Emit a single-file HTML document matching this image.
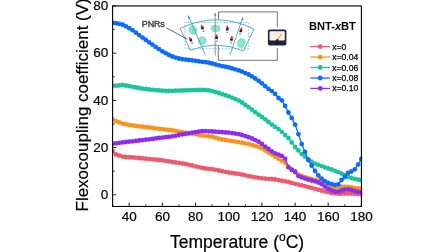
<!DOCTYPE html>
<html><head><meta charset="utf-8"><title>Flexocoupling coefficient vs Temperature</title>
<style>
html,body{margin:0;padding:0;background:#fff;}
body{width:448px;height:252px;overflow:hidden;}
svg{display:block;font-family:"Liberation Sans",Arial,sans-serif;}
</style></head><body>
<svg width="448" height="252" viewBox="0 0 448 252">
<rect width="448" height="252" fill="#fff"/>
<g id="inset">
<defs><pattern id="hatch" width="1.6" height="1.6" patternUnits="userSpaceOnUse" patternTransform="rotate(20)"><rect width="1.6" height="1.6" fill="#a9ecd9"/><rect width="0.7" height="1.6" fill="#6fd9bc"/></pattern></defs>
<!-- circuit wires -->
<path d="M218.5 20V11.9H277.3V27.4M277.3 48V60.3H218.3V45.6" fill="none" stroke="#505050" stroke-width="0.8"/>
<!-- dashed undeformed beam -->
<rect x="185" y="22.5" width="63.7" height="26.2" fill="none" stroke="#62adc8" stroke-width="0.75" stroke-dasharray="1.5 1.7"/>
<!-- PNR ellipses -->
<g fill="url(#hatch)" stroke="#5fd3b4" stroke-width="0.5">
<ellipse cx="193" cy="30" rx="3.7" ry="4.5" transform="rotate(-22 193 30)"/>
<ellipse cx="215.6" cy="28.4" rx="4.6" ry="3.3" transform="rotate(0 215.6 28.4)"/>
<ellipse cx="202.2" cy="40.6" rx="3.9" ry="3.9" transform="rotate(25 202.2 40.6)"/>
<ellipse cx="241.2" cy="43" rx="3.7" ry="4.5" transform="rotate(22 241.2 43)"/>
</g>
<!-- bent beam -->
<path d="M180.1 28.4Q217 10.85 254 29.1L243.3 51Q216.8 39.6 190.3 50.2Z" fill="none" stroke="#4f9fbc" stroke-width="0.9" stroke-linejoin="round"/>
<!-- arrows -->
<path d="M205.3 55L188.9 17.2M215.2 55.5V14.5M230 54.8L242.3 18.7" fill="none" stroke="#4f9fbc" stroke-width="0.9"/>
<path d="M188 15l2.4 3.1-2.4 1.05zM215.2 12.3l1.35 3.5h-2.7zM243 16.6l0.55 3.8-2.5-0.85z" fill="#4f9fbc"/>
<!-- dipoles -->
<g transform="translate(202.5,28.3) rotate(-18)"><path d="M0 -3.7L1.25 -0.9H-1.25Z" fill="#e51c2a" stroke="#e51c2a" stroke-width="0.5" stroke-linejoin="round"/><rect x="-1.25" y="-1" width="2.5" height="2.2" rx="0.5" fill="#17172a"/><rect x="-1.1" y="1.2" width="2.2" height="2.6" rx="0.6" fill="#c4e0f3"/><rect x="-0.8" y="2.8" width="1.6" height="1" rx="0.3" fill="#3b4a5a" opacity="0.6"/></g>
<g transform="translate(190.9,40.3) rotate(-22)"><path d="M0 -3.7L1.25 -0.9H-1.25Z" fill="#e51c2a" stroke="#e51c2a" stroke-width="0.5" stroke-linejoin="round"/><rect x="-1.25" y="-1" width="2.5" height="2.2" rx="0.5" fill="#17172a"/><rect x="-1.1" y="1.2" width="2.2" height="2.6" rx="0.6" fill="#c4e0f3"/><rect x="-0.8" y="2.8" width="1.6" height="1" rx="0.3" fill="#3b4a5a" opacity="0.6"/></g>
<g transform="translate(216.6,37.9) rotate(0)"><path d="M0 -3.7L1.25 -0.9H-1.25Z" fill="#e51c2a" stroke="#e51c2a" stroke-width="0.5" stroke-linejoin="round"/><rect x="-1.25" y="-1" width="2.5" height="2.2" rx="0.5" fill="#17172a"/><rect x="-1.1" y="1.2" width="2.2" height="2.6" rx="0.6" fill="#c4e0f3"/><rect x="-0.8" y="2.8" width="1.6" height="1" rx="0.3" fill="#3b4a5a" opacity="0.6"/></g>
<g transform="translate(227.3,29.3) rotate(0)"><path d="M0 -3.7L1.25 -0.9H-1.25Z" fill="#e51c2a" stroke="#e51c2a" stroke-width="0.5" stroke-linejoin="round"/><rect x="-1.25" y="-1" width="2.5" height="2.2" rx="0.5" fill="#17172a"/><rect x="-1.1" y="1.2" width="2.2" height="2.6" rx="0.6" fill="#c4e0f3"/><rect x="-0.8" y="2.8" width="1.6" height="1" rx="0.3" fill="#3b4a5a" opacity="0.6"/></g>
<g transform="translate(231.5,39.6) rotate(8)"><path d="M0 -3.7L1.25 -0.9H-1.25Z" fill="#e51c2a" stroke="#e51c2a" stroke-width="0.5" stroke-linejoin="round"/><rect x="-1.25" y="-1" width="2.5" height="2.2" rx="0.5" fill="#17172a"/><rect x="-1.1" y="1.2" width="2.2" height="2.6" rx="0.6" fill="#c4e0f3"/><rect x="-0.8" y="2.8" width="1.6" height="1" rx="0.3" fill="#3b4a5a" opacity="0.6"/></g>
<g transform="translate(240.8,31) rotate(15)"><path d="M0 -3.7L1.25 -0.9H-1.25Z" fill="#e51c2a" stroke="#e51c2a" stroke-width="0.5" stroke-linejoin="round"/><rect x="-1.25" y="-1" width="2.5" height="2.2" rx="0.5" fill="#17172a"/><rect x="-1.1" y="1.2" width="2.2" height="2.6" rx="0.6" fill="#c4e0f3"/><rect x="-0.8" y="2.8" width="1.6" height="1" rx="0.3" fill="#3b4a5a" opacity="0.6"/></g>

<!-- voltmeter -->
<rect x="267.9" y="29.6" width="18.5" height="16" rx="1.8" fill="#1c2240"/>
<rect x="269.5" y="31.2" width="15.3" height="9.2" rx="0.8" fill="#fbf2e2"/>
<path d="M277.4 40L281.6 33.8" stroke="#e8602c" stroke-width="0.8" fill="none"/>
<path d="M271.5 35.8Q277.2 31.8 283 35.8" stroke="#cdb98f" stroke-width="0.6" stroke-dasharray="0.6 0.9" fill="none"/>
<circle cx="277.2" cy="40.6" r="1.5" fill="#1c2240"/><ellipse cx="277.2" cy="43.2" rx="1.6" ry="0.7" fill="#0c0f22"/>
<!-- PNRs label -->
<path d="M166.3 27.8L187.4 39.1" stroke="#444" stroke-width="0.8" fill="none"/>
<text x="141.8" y="26.6" font-size="8.8px" fill="#4a4a4a" stroke="#4a4a4a" stroke-width="0.45">PNRs</text>
</g>

<clipPath id="pc"><rect x="112.2" y="0" width="250" height="210"/></clipPath><g clip-path="url(#pc)"><g fill="#EB5A6E" stroke="none"><polyline points="112.6,151.0 115.9,154.4 119.2,155.5 122.6,156.6 125.9,157.0 129.2,157.2 132.5,157.4 135.8,157.7 139.1,158.0 142.5,158.4 145.8,158.7 149.1,159.0 152.4,159.3 155.7,159.7 159.0,160.0 162.4,160.3 165.7,160.8 169.0,161.4 172.3,162.0 175.6,162.5 178.9,163.0 182.3,163.5 185.6,164.0 188.9,164.8 192.2,165.5 195.5,166.3 198.9,167.1 202.2,167.9 205.5,168.5 208.8,168.8 212.1,169.2 215.4,169.8 218.8,170.5 222.1,171.2 225.4,171.8 228.7,172.5 232.0,173.0 235.3,173.5 238.7,173.9 242.0,174.6 245.3,175.3 248.6,176.1 251.9,176.7 255.2,177.3 258.6,177.8 261.9,178.3 265.2,178.6 268.5,178.8 271.8,178.9 275.1,179.5 278.5,180.1 281.8,180.7 285.1,181.3 288.4,182.0 291.7,182.9 295.1,183.8 298.4,184.6 301.7,185.4 305.0,186.2 308.3,187.1 311.6,187.9 315.0,188.8 318.3,189.7 321.6,190.5 324.9,191.4 328.2,192.2 331.5,193.0 334.9,193.3 338.2,193.7 341.5,193.8 344.8,193.6 348.1,193.4 351.4,193.6 354.8,193.8 358.1,194.1 361.4,194.4" fill="none" stroke="#EB5A6E" stroke-width="1.3"/>
<circle cx="112.6" cy="151.0" r="2.4"/><circle cx="115.9" cy="154.4" r="2.4"/><circle cx="119.2" cy="155.5" r="2.4"/><circle cx="122.6" cy="156.6" r="2.4"/><circle cx="125.9" cy="157.0" r="2.4"/><circle cx="129.2" cy="157.2" r="2.4"/><circle cx="132.5" cy="157.4" r="2.4"/><circle cx="135.8" cy="157.7" r="2.4"/><circle cx="139.1" cy="158.0" r="2.4"/><circle cx="142.5" cy="158.4" r="2.4"/><circle cx="145.8" cy="158.7" r="2.4"/><circle cx="149.1" cy="159.0" r="2.4"/><circle cx="152.4" cy="159.3" r="2.4"/><circle cx="155.7" cy="159.7" r="2.4"/><circle cx="159.0" cy="160.0" r="2.4"/><circle cx="162.4" cy="160.3" r="2.4"/><circle cx="165.7" cy="160.8" r="2.4"/><circle cx="169.0" cy="161.4" r="2.4"/><circle cx="172.3" cy="162.0" r="2.4"/><circle cx="175.6" cy="162.5" r="2.4"/><circle cx="178.9" cy="163.0" r="2.4"/><circle cx="182.3" cy="163.5" r="2.4"/><circle cx="185.6" cy="164.0" r="2.4"/><circle cx="188.9" cy="164.8" r="2.4"/><circle cx="192.2" cy="165.5" r="2.4"/><circle cx="195.5" cy="166.3" r="2.4"/><circle cx="198.9" cy="167.1" r="2.4"/><circle cx="202.2" cy="167.9" r="2.4"/><circle cx="205.5" cy="168.5" r="2.4"/><circle cx="208.8" cy="168.8" r="2.4"/><circle cx="212.1" cy="169.2" r="2.4"/><circle cx="215.4" cy="169.8" r="2.4"/><circle cx="218.8" cy="170.5" r="2.4"/><circle cx="222.1" cy="171.2" r="2.4"/><circle cx="225.4" cy="171.8" r="2.4"/><circle cx="228.7" cy="172.5" r="2.4"/><circle cx="232.0" cy="173.0" r="2.4"/><circle cx="235.3" cy="173.5" r="2.4"/><circle cx="238.7" cy="173.9" r="2.4"/><circle cx="242.0" cy="174.6" r="2.4"/><circle cx="245.3" cy="175.3" r="2.4"/><circle cx="248.6" cy="176.1" r="2.4"/><circle cx="251.9" cy="176.7" r="2.4"/><circle cx="255.2" cy="177.3" r="2.4"/><circle cx="258.6" cy="177.8" r="2.4"/><circle cx="261.9" cy="178.3" r="2.4"/><circle cx="265.2" cy="178.6" r="2.4"/><circle cx="268.5" cy="178.8" r="2.4"/><circle cx="271.8" cy="178.9" r="2.4"/><circle cx="275.1" cy="179.5" r="2.4"/><circle cx="278.5" cy="180.1" r="2.4"/><circle cx="281.8" cy="180.7" r="2.4"/><circle cx="285.1" cy="181.3" r="2.4"/><circle cx="288.4" cy="182.0" r="2.4"/><circle cx="291.7" cy="182.9" r="2.4"/><circle cx="295.1" cy="183.8" r="2.4"/><circle cx="298.4" cy="184.6" r="2.4"/><circle cx="301.7" cy="185.4" r="2.4"/><circle cx="305.0" cy="186.2" r="2.4"/><circle cx="308.3" cy="187.1" r="2.4"/><circle cx="311.6" cy="187.9" r="2.4"/><circle cx="315.0" cy="188.8" r="2.4"/><circle cx="318.3" cy="189.7" r="2.4"/><circle cx="321.6" cy="190.5" r="2.4"/><circle cx="324.9" cy="191.4" r="2.4"/><circle cx="328.2" cy="192.2" r="2.4"/><circle cx="331.5" cy="193.0" r="2.4"/><circle cx="334.9" cy="193.3" r="2.4"/><circle cx="338.2" cy="193.7" r="2.4"/><circle cx="341.5" cy="193.8" r="2.4"/><circle cx="344.8" cy="193.6" r="2.4"/><circle cx="348.1" cy="193.4" r="2.4"/><circle cx="351.4" cy="193.6" r="2.4"/><circle cx="354.8" cy="193.8" r="2.4"/><circle cx="358.1" cy="194.1" r="2.4"/><circle cx="361.4" cy="194.4" r="2.4"/>
</g>
<g fill="#F7941E" stroke="none"><polyline points="112.6,119.3 115.9,121.2 119.2,122.4 122.6,123.6 125.9,124.3 129.2,124.9 132.5,125.4 135.8,125.9 139.1,126.3 142.5,126.7 145.8,127.1 149.1,127.5 152.4,127.9 155.7,128.4 159.0,128.8 162.4,129.2 165.7,129.6 169.0,130.0 172.3,130.4 175.6,131.0 178.9,131.6 182.3,132.2 185.6,132.7 188.9,133.2 192.2,133.7 195.5,134.2 198.9,134.8 202.2,135.4 205.5,135.8 208.8,136.3 212.1,136.7 215.4,137.6 218.8,138.7 222.1,139.5 225.4,140.0 228.7,140.6 232.0,141.1 235.3,141.6 238.7,142.1 242.0,142.7 245.3,143.3 248.6,143.9 251.9,144.8 255.2,145.9 258.6,147.0 261.9,148.3 265.2,150.5 268.5,152.5 271.8,154.5 275.1,156.5 278.5,158.8 281.8,160.8 285.1,162.8 288.4,167.0 291.7,169.1 295.1,171.1 298.4,174.6 301.7,175.9 305.0,177.1 308.3,178.2 311.6,179.0 315.0,179.9 318.3,180.7 321.6,181.5 324.9,183.1 328.2,185.2 331.5,186.4 334.9,187.3 338.2,187.0 341.5,186.7 344.8,186.8 348.1,187.0 351.4,187.4 354.8,188.0 358.1,188.5 361.4,189.0" fill="none" stroke="#F7941E" stroke-width="1.3"/>
<circle cx="112.6" cy="119.3" r="2.4"/><circle cx="115.9" cy="121.2" r="2.4"/><circle cx="119.2" cy="122.4" r="2.4"/><circle cx="122.6" cy="123.6" r="2.4"/><circle cx="125.9" cy="124.3" r="2.4"/><circle cx="129.2" cy="124.9" r="2.4"/><circle cx="132.5" cy="125.4" r="2.4"/><circle cx="135.8" cy="125.9" r="2.4"/><circle cx="139.1" cy="126.3" r="2.4"/><circle cx="142.5" cy="126.7" r="2.4"/><circle cx="145.8" cy="127.1" r="2.4"/><circle cx="149.1" cy="127.5" r="2.4"/><circle cx="152.4" cy="127.9" r="2.4"/><circle cx="155.7" cy="128.4" r="2.4"/><circle cx="159.0" cy="128.8" r="2.4"/><circle cx="162.4" cy="129.2" r="2.4"/><circle cx="165.7" cy="129.6" r="2.4"/><circle cx="169.0" cy="130.0" r="2.4"/><circle cx="172.3" cy="130.4" r="2.4"/><circle cx="175.6" cy="131.0" r="2.4"/><circle cx="178.9" cy="131.6" r="2.4"/><circle cx="182.3" cy="132.2" r="2.4"/><circle cx="185.6" cy="132.7" r="2.4"/><circle cx="188.9" cy="133.2" r="2.4"/><circle cx="192.2" cy="133.7" r="2.4"/><circle cx="195.5" cy="134.2" r="2.4"/><circle cx="198.9" cy="134.8" r="2.4"/><circle cx="202.2" cy="135.4" r="2.4"/><circle cx="205.5" cy="135.8" r="2.4"/><circle cx="208.8" cy="136.3" r="2.4"/><circle cx="212.1" cy="136.7" r="2.4"/><circle cx="215.4" cy="137.6" r="2.4"/><circle cx="218.8" cy="138.7" r="2.4"/><circle cx="222.1" cy="139.5" r="2.4"/><circle cx="225.4" cy="140.0" r="2.4"/><circle cx="228.7" cy="140.6" r="2.4"/><circle cx="232.0" cy="141.1" r="2.4"/><circle cx="235.3" cy="141.6" r="2.4"/><circle cx="238.7" cy="142.1" r="2.4"/><circle cx="242.0" cy="142.7" r="2.4"/><circle cx="245.3" cy="143.3" r="2.4"/><circle cx="248.6" cy="143.9" r="2.4"/><circle cx="251.9" cy="144.8" r="2.4"/><circle cx="255.2" cy="145.9" r="2.4"/><circle cx="258.6" cy="147.0" r="2.4"/><circle cx="261.9" cy="148.3" r="2.4"/><circle cx="265.2" cy="150.5" r="2.4"/><circle cx="268.5" cy="152.5" r="2.4"/><circle cx="271.8" cy="154.5" r="2.4"/><circle cx="275.1" cy="156.5" r="2.4"/><circle cx="278.5" cy="158.8" r="2.4"/><circle cx="281.8" cy="160.8" r="2.4"/><circle cx="285.1" cy="162.8" r="2.4"/><circle cx="288.4" cy="167.0" r="2.4"/><circle cx="291.7" cy="169.1" r="2.4"/><circle cx="295.1" cy="171.1" r="2.4"/><circle cx="298.4" cy="174.6" r="2.4"/><circle cx="301.7" cy="175.9" r="2.4"/><circle cx="305.0" cy="177.1" r="2.4"/><circle cx="308.3" cy="178.2" r="2.4"/><circle cx="311.6" cy="179.0" r="2.4"/><circle cx="315.0" cy="179.9" r="2.4"/><circle cx="318.3" cy="180.7" r="2.4"/><circle cx="321.6" cy="181.5" r="2.4"/><circle cx="324.9" cy="183.1" r="2.4"/><circle cx="328.2" cy="185.2" r="2.4"/><circle cx="331.5" cy="186.4" r="2.4"/><circle cx="334.9" cy="187.3" r="2.4"/><circle cx="338.2" cy="187.0" r="2.4"/><circle cx="341.5" cy="186.7" r="2.4"/><circle cx="344.8" cy="186.8" r="2.4"/><circle cx="348.1" cy="187.0" r="2.4"/><circle cx="351.4" cy="187.4" r="2.4"/><circle cx="354.8" cy="188.0" r="2.4"/><circle cx="358.1" cy="188.5" r="2.4"/><circle cx="361.4" cy="189.0" r="2.4"/>
</g>
<g fill="#1BC3A1" stroke="none"><polyline points="112.6,85.8 115.9,85.7 119.2,85.4 122.6,85.0 125.9,85.5 129.2,86.1 132.5,86.8 135.8,87.4 139.1,88.0 142.5,88.6 145.8,89.0 149.1,89.4 152.4,89.8 155.7,90.1 159.0,90.4 162.4,90.6 165.7,90.8 169.0,90.8 172.3,90.8 175.6,90.7 178.9,90.6 182.3,90.5 185.6,90.4 188.9,90.3 192.2,90.2 195.5,90.1 198.9,90.0 202.2,89.9 205.5,90.1 208.8,90.4 212.1,91.1 215.4,92.0 218.8,93.0 222.1,94.2 225.4,95.2 228.7,96.3 232.0,97.6 235.3,99.1 238.7,100.6 242.0,102.5 245.3,104.8 248.6,107.1 251.9,109.6 255.2,112.2 258.6,114.7 261.9,117.0 265.2,119.3 268.5,122.0 271.8,124.6 275.1,126.9 278.5,129.1 281.8,131.9 285.1,135.0 288.4,138.0 291.7,142.4 295.1,147.0 298.4,150.4 301.7,154.1 305.0,156.7 308.3,159.4 311.6,161.7 315.0,163.7 318.3,164.9 321.6,166.1 324.9,167.3 328.2,168.4 331.5,169.5 334.9,170.8 338.2,172.1 341.5,173.6 344.8,175.2 348.1,176.9 351.4,178.0 354.8,178.9 358.1,179.7 361.4,180.5" fill="none" stroke="#1BC3A1" stroke-width="1.3"/>
<circle cx="112.6" cy="85.8" r="2.4"/><circle cx="115.9" cy="85.7" r="2.4"/><circle cx="119.2" cy="85.4" r="2.4"/><circle cx="122.6" cy="85.0" r="2.4"/><circle cx="125.9" cy="85.5" r="2.4"/><circle cx="129.2" cy="86.1" r="2.4"/><circle cx="132.5" cy="86.8" r="2.4"/><circle cx="135.8" cy="87.4" r="2.4"/><circle cx="139.1" cy="88.0" r="2.4"/><circle cx="142.5" cy="88.6" r="2.4"/><circle cx="145.8" cy="89.0" r="2.4"/><circle cx="149.1" cy="89.4" r="2.4"/><circle cx="152.4" cy="89.8" r="2.4"/><circle cx="155.7" cy="90.1" r="2.4"/><circle cx="159.0" cy="90.4" r="2.4"/><circle cx="162.4" cy="90.6" r="2.4"/><circle cx="165.7" cy="90.8" r="2.4"/><circle cx="169.0" cy="90.8" r="2.4"/><circle cx="172.3" cy="90.8" r="2.4"/><circle cx="175.6" cy="90.7" r="2.4"/><circle cx="178.9" cy="90.6" r="2.4"/><circle cx="182.3" cy="90.5" r="2.4"/><circle cx="185.6" cy="90.4" r="2.4"/><circle cx="188.9" cy="90.3" r="2.4"/><circle cx="192.2" cy="90.2" r="2.4"/><circle cx="195.5" cy="90.1" r="2.4"/><circle cx="198.9" cy="90.0" r="2.4"/><circle cx="202.2" cy="89.9" r="2.4"/><circle cx="205.5" cy="90.1" r="2.4"/><circle cx="208.8" cy="90.4" r="2.4"/><circle cx="212.1" cy="91.1" r="2.4"/><circle cx="215.4" cy="92.0" r="2.4"/><circle cx="218.8" cy="93.0" r="2.4"/><circle cx="222.1" cy="94.2" r="2.4"/><circle cx="225.4" cy="95.2" r="2.4"/><circle cx="228.7" cy="96.3" r="2.4"/><circle cx="232.0" cy="97.6" r="2.4"/><circle cx="235.3" cy="99.1" r="2.4"/><circle cx="238.7" cy="100.6" r="2.4"/><circle cx="242.0" cy="102.5" r="2.4"/><circle cx="245.3" cy="104.8" r="2.4"/><circle cx="248.6" cy="107.1" r="2.4"/><circle cx="251.9" cy="109.6" r="2.4"/><circle cx="255.2" cy="112.2" r="2.4"/><circle cx="258.6" cy="114.7" r="2.4"/><circle cx="261.9" cy="117.0" r="2.4"/><circle cx="265.2" cy="119.3" r="2.4"/><circle cx="268.5" cy="122.0" r="2.4"/><circle cx="271.8" cy="124.6" r="2.4"/><circle cx="275.1" cy="126.9" r="2.4"/><circle cx="278.5" cy="129.1" r="2.4"/><circle cx="281.8" cy="131.9" r="2.4"/><circle cx="285.1" cy="135.0" r="2.4"/><circle cx="288.4" cy="138.0" r="2.4"/><circle cx="291.7" cy="142.4" r="2.4"/><circle cx="295.1" cy="147.0" r="2.4"/><circle cx="298.4" cy="150.4" r="2.4"/><circle cx="301.7" cy="154.1" r="2.4"/><circle cx="305.0" cy="156.7" r="2.4"/><circle cx="308.3" cy="159.4" r="2.4"/><circle cx="311.6" cy="161.7" r="2.4"/><circle cx="315.0" cy="163.7" r="2.4"/><circle cx="318.3" cy="164.9" r="2.4"/><circle cx="321.6" cy="166.1" r="2.4"/><circle cx="324.9" cy="167.3" r="2.4"/><circle cx="328.2" cy="168.4" r="2.4"/><circle cx="331.5" cy="169.5" r="2.4"/><circle cx="334.9" cy="170.8" r="2.4"/><circle cx="338.2" cy="172.1" r="2.4"/><circle cx="341.5" cy="173.6" r="2.4"/><circle cx="344.8" cy="175.2" r="2.4"/><circle cx="348.1" cy="176.9" r="2.4"/><circle cx="351.4" cy="178.0" r="2.4"/><circle cx="354.8" cy="178.9" r="2.4"/><circle cx="358.1" cy="179.7" r="2.4"/><circle cx="361.4" cy="180.5" r="2.4"/>
</g>
<g fill="#0B6CF7" stroke="none"><polyline points="112.6,22.8 115.9,23.2 119.2,23.8 122.6,24.7 125.9,26.3 129.2,28.2 132.5,30.2 135.8,32.6 139.1,35.1 142.5,37.6 145.8,39.9 149.1,42.3 152.4,44.6 155.7,46.9 159.0,49.2 162.4,51.4 165.7,53.2 169.0,55.0 172.3,56.5 175.6,57.6 178.9,58.5 182.3,59.2 185.6,59.6 188.9,60.0 192.2,60.3 195.5,60.8 198.9,61.3 202.2,61.8 205.5,62.2 208.8,62.7 212.1,63.5 215.4,64.4 218.8,65.3 222.1,66.1 225.4,66.7 228.7,67.4 232.0,68.3 235.3,69.3 238.7,70.4 242.0,71.6 245.3,73.1 248.6,74.5 251.9,76.3 255.2,78.5 258.6,80.8 261.9,83.3 265.2,86.2 268.5,88.9 271.8,91.1 275.1,93.9 278.5,97.9 281.8,100.3 285.1,105.9 288.4,112.5 291.7,117.9 295.1,124.6 298.4,134.1 301.7,144.1 305.0,151.9 308.3,160.0 311.6,165.7 315.0,171.0 318.3,175.4 321.6,178.6 324.9,181.1 328.2,183.0 331.5,184.1 334.9,184.8 338.2,184.3 341.5,180.0 344.8,176.9 348.1,172.8 351.4,171.5 354.8,169.3 358.1,164.6 361.4,159.0" fill="none" stroke="#0B6CF7" stroke-width="1.3"/>
<circle cx="112.6" cy="22.8" r="2.4"/><circle cx="115.9" cy="23.2" r="2.4"/><circle cx="119.2" cy="23.8" r="2.4"/><circle cx="122.6" cy="24.7" r="2.4"/><circle cx="125.9" cy="26.3" r="2.4"/><circle cx="129.2" cy="28.2" r="2.4"/><circle cx="132.5" cy="30.2" r="2.4"/><circle cx="135.8" cy="32.6" r="2.4"/><circle cx="139.1" cy="35.1" r="2.4"/><circle cx="142.5" cy="37.6" r="2.4"/><circle cx="145.8" cy="39.9" r="2.4"/><circle cx="149.1" cy="42.3" r="2.4"/><circle cx="152.4" cy="44.6" r="2.4"/><circle cx="155.7" cy="46.9" r="2.4"/><circle cx="159.0" cy="49.2" r="2.4"/><circle cx="162.4" cy="51.4" r="2.4"/><circle cx="165.7" cy="53.2" r="2.4"/><circle cx="169.0" cy="55.0" r="2.4"/><circle cx="172.3" cy="56.5" r="2.4"/><circle cx="175.6" cy="57.6" r="2.4"/><circle cx="178.9" cy="58.5" r="2.4"/><circle cx="182.3" cy="59.2" r="2.4"/><circle cx="185.6" cy="59.6" r="2.4"/><circle cx="188.9" cy="60.0" r="2.4"/><circle cx="192.2" cy="60.3" r="2.4"/><circle cx="195.5" cy="60.8" r="2.4"/><circle cx="198.9" cy="61.3" r="2.4"/><circle cx="202.2" cy="61.8" r="2.4"/><circle cx="205.5" cy="62.2" r="2.4"/><circle cx="208.8" cy="62.7" r="2.4"/><circle cx="212.1" cy="63.5" r="2.4"/><circle cx="215.4" cy="64.4" r="2.4"/><circle cx="218.8" cy="65.3" r="2.4"/><circle cx="222.1" cy="66.1" r="2.4"/><circle cx="225.4" cy="66.7" r="2.4"/><circle cx="228.7" cy="67.4" r="2.4"/><circle cx="232.0" cy="68.3" r="2.4"/><circle cx="235.3" cy="69.3" r="2.4"/><circle cx="238.7" cy="70.4" r="2.4"/><circle cx="242.0" cy="71.6" r="2.4"/><circle cx="245.3" cy="73.1" r="2.4"/><circle cx="248.6" cy="74.5" r="2.4"/><circle cx="251.9" cy="76.3" r="2.4"/><circle cx="255.2" cy="78.5" r="2.4"/><circle cx="258.6" cy="80.8" r="2.4"/><circle cx="261.9" cy="83.3" r="2.4"/><circle cx="265.2" cy="86.2" r="2.4"/><circle cx="268.5" cy="88.9" r="2.4"/><circle cx="271.8" cy="91.1" r="2.4"/><circle cx="275.1" cy="93.9" r="2.4"/><circle cx="278.5" cy="97.9" r="2.4"/><circle cx="281.8" cy="100.3" r="2.4"/><circle cx="285.1" cy="105.9" r="2.4"/><circle cx="288.4" cy="112.5" r="2.4"/><circle cx="291.7" cy="117.9" r="2.4"/><circle cx="295.1" cy="124.6" r="2.4"/><circle cx="298.4" cy="134.1" r="2.4"/><circle cx="301.7" cy="144.1" r="2.4"/><circle cx="305.0" cy="151.9" r="2.4"/><circle cx="308.3" cy="160.0" r="2.4"/><circle cx="311.6" cy="165.7" r="2.4"/><circle cx="315.0" cy="171.0" r="2.4"/><circle cx="318.3" cy="175.4" r="2.4"/><circle cx="321.6" cy="178.6" r="2.4"/><circle cx="324.9" cy="181.1" r="2.4"/><circle cx="328.2" cy="183.0" r="2.4"/><circle cx="331.5" cy="184.1" r="2.4"/><circle cx="334.9" cy="184.8" r="2.4"/><circle cx="338.2" cy="184.3" r="2.4"/><circle cx="341.5" cy="180.0" r="2.4"/><circle cx="344.8" cy="176.9" r="2.4"/><circle cx="348.1" cy="172.8" r="2.4"/><circle cx="351.4" cy="171.5" r="2.4"/><circle cx="354.8" cy="169.3" r="2.4"/><circle cx="358.1" cy="164.6" r="2.4"/><circle cx="361.4" cy="159.0" r="2.4"/>
</g>
<g fill="#8E2DF0" stroke="none"><polyline points="112.6,143.8 115.9,143.3 119.2,142.8 122.6,142.4 125.9,142.0 129.2,141.7 132.5,141.3 135.8,140.9 139.1,140.5 142.5,140.1 145.8,139.7 149.1,139.3 152.4,138.9 155.7,138.4 159.0,138.0 162.4,137.6 165.7,137.2 169.0,136.8 172.3,136.4 175.6,135.8 178.9,135.0 182.3,134.3 185.6,133.9 188.9,133.3 192.2,132.7 195.5,132.2 198.9,131.6 202.2,131.1 205.5,131.1 208.8,131.3 212.1,131.5 215.4,131.7 218.8,131.9 222.1,132.2 225.4,132.4 228.7,132.6 232.0,133.1 235.3,133.6 238.7,134.2 242.0,135.0 245.3,136.1 248.6,137.2 251.9,138.5 255.2,140.1 258.6,141.7 261.9,143.8 265.2,146.7 268.5,149.0 271.8,151.3 275.1,153.3 278.5,154.6 281.8,155.9 285.1,158.7 288.4,167.2 291.7,170.0 295.1,172.0 298.4,175.9 301.7,177.4 305.0,178.6 308.3,179.7 311.6,180.5 315.0,181.3 318.3,182.5 321.6,184.0 324.9,186.6 328.2,188.8 331.5,190.4 334.9,191.5 338.2,191.7 341.5,190.5 344.8,189.6 348.1,189.4 351.4,190.0 354.8,191.0 358.1,191.8 361.4,192.6" fill="none" stroke="#8E2DF0" stroke-width="1.3"/>
<circle cx="112.6" cy="143.8" r="2.4"/><circle cx="115.9" cy="143.3" r="2.4"/><circle cx="119.2" cy="142.8" r="2.4"/><circle cx="122.6" cy="142.4" r="2.4"/><circle cx="125.9" cy="142.0" r="2.4"/><circle cx="129.2" cy="141.7" r="2.4"/><circle cx="132.5" cy="141.3" r="2.4"/><circle cx="135.8" cy="140.9" r="2.4"/><circle cx="139.1" cy="140.5" r="2.4"/><circle cx="142.5" cy="140.1" r="2.4"/><circle cx="145.8" cy="139.7" r="2.4"/><circle cx="149.1" cy="139.3" r="2.4"/><circle cx="152.4" cy="138.9" r="2.4"/><circle cx="155.7" cy="138.4" r="2.4"/><circle cx="159.0" cy="138.0" r="2.4"/><circle cx="162.4" cy="137.6" r="2.4"/><circle cx="165.7" cy="137.2" r="2.4"/><circle cx="169.0" cy="136.8" r="2.4"/><circle cx="172.3" cy="136.4" r="2.4"/><circle cx="175.6" cy="135.8" r="2.4"/><circle cx="178.9" cy="135.0" r="2.4"/><circle cx="182.3" cy="134.3" r="2.4"/><circle cx="185.6" cy="133.9" r="2.4"/><circle cx="188.9" cy="133.3" r="2.4"/><circle cx="192.2" cy="132.7" r="2.4"/><circle cx="195.5" cy="132.2" r="2.4"/><circle cx="198.9" cy="131.6" r="2.4"/><circle cx="202.2" cy="131.1" r="2.4"/><circle cx="205.5" cy="131.1" r="2.4"/><circle cx="208.8" cy="131.3" r="2.4"/><circle cx="212.1" cy="131.5" r="2.4"/><circle cx="215.4" cy="131.7" r="2.4"/><circle cx="218.8" cy="131.9" r="2.4"/><circle cx="222.1" cy="132.2" r="2.4"/><circle cx="225.4" cy="132.4" r="2.4"/><circle cx="228.7" cy="132.6" r="2.4"/><circle cx="232.0" cy="133.1" r="2.4"/><circle cx="235.3" cy="133.6" r="2.4"/><circle cx="238.7" cy="134.2" r="2.4"/><circle cx="242.0" cy="135.0" r="2.4"/><circle cx="245.3" cy="136.1" r="2.4"/><circle cx="248.6" cy="137.2" r="2.4"/><circle cx="251.9" cy="138.5" r="2.4"/><circle cx="255.2" cy="140.1" r="2.4"/><circle cx="258.6" cy="141.7" r="2.4"/><circle cx="261.9" cy="143.8" r="2.4"/><circle cx="265.2" cy="146.7" r="2.4"/><circle cx="268.5" cy="149.0" r="2.4"/><circle cx="271.8" cy="151.3" r="2.4"/><circle cx="275.1" cy="153.3" r="2.4"/><circle cx="278.5" cy="154.6" r="2.4"/><circle cx="281.8" cy="155.9" r="2.4"/><circle cx="285.1" cy="158.7" r="2.4"/><circle cx="288.4" cy="167.2" r="2.4"/><circle cx="291.7" cy="170.0" r="2.4"/><circle cx="295.1" cy="172.0" r="2.4"/><circle cx="298.4" cy="175.9" r="2.4"/><circle cx="301.7" cy="177.4" r="2.4"/><circle cx="305.0" cy="178.6" r="2.4"/><circle cx="308.3" cy="179.7" r="2.4"/><circle cx="311.6" cy="180.5" r="2.4"/><circle cx="315.0" cy="181.3" r="2.4"/><circle cx="318.3" cy="182.5" r="2.4"/><circle cx="321.6" cy="184.0" r="2.4"/><circle cx="324.9" cy="186.6" r="2.4"/><circle cx="328.2" cy="188.8" r="2.4"/><circle cx="331.5" cy="190.4" r="2.4"/><circle cx="334.9" cy="191.5" r="2.4"/><circle cx="338.2" cy="191.7" r="2.4"/><circle cx="341.5" cy="190.5" r="2.4"/><circle cx="344.8" cy="189.6" r="2.4"/><circle cx="348.1" cy="189.4" r="2.4"/><circle cx="351.4" cy="190.0" r="2.4"/><circle cx="354.8" cy="191.0" r="2.4"/><circle cx="358.1" cy="191.8" r="2.4"/><circle cx="361.4" cy="192.6" r="2.4"/>
</g></g>
<rect x="112.6" y="5.95" width="248.8" height="200.5" fill="none" stroke="#000" stroke-width="1.1"/>
<path d="M112.6 194.8h3.8M112.6 171.2h2M112.6 147.6h3.8M112.6 124.0h2M112.6 100.4h3.8M112.6 76.8h2M112.6 53.2h3.8M112.6 29.6h2M112.6 5.9h3.8M112.6 206.45v-2M129.2 206.45v-3.8M145.8 206.45v-2M162.4 206.45v-3.8M178.9 206.45v-2M195.5 206.45v-3.8M212.1 206.45v-2M228.7 206.45v-3.8M245.3 206.45v-2M261.9 206.45v-3.8M278.5 206.45v-2M295.1 206.45v-3.8M311.6 206.45v-2M328.2 206.45v-3.8M344.8 206.45v-2M361.4 206.45v-3.8" stroke="#000" stroke-width="0.9" fill="none"/>
<g font-size="13.5px" fill="#000" stroke="#000" stroke-width="0.2"><text x="108.2" y="198.9" text-anchor="end">0</text>
<text x="108.2" y="151.7" text-anchor="end">20</text>
<text x="108.2" y="104.5" text-anchor="end">40</text>
<text x="108.2" y="57.3" text-anchor="end">60</text>
<text x="108.2" y="10.0" text-anchor="end">80</text>
<text x="129.2" y="221.4" text-anchor="middle">40</text>
<text x="162.4" y="221.4" text-anchor="middle">60</text>
<text x="195.5" y="221.4" text-anchor="middle">80</text>
<text x="228.7" y="221.4" text-anchor="middle">100</text>
<text x="261.9" y="221.4" text-anchor="middle">120</text>
<text x="295.1" y="221.4" text-anchor="middle">140</text>
<text x="328.2" y="221.4" text-anchor="middle">160</text>
<text x="361.4" y="221.4" text-anchor="middle">180</text></g>
<text x="237.1" y="247.6" font-size="17.5px" text-anchor="middle" fill="#000" stroke="#000" stroke-width="0.2">Temperature (<tspan font-size="12px" dy="-6.6">o</tspan><tspan dy="6.6">C)</tspan></text>
<text transform="translate(87.5,211.5) rotate(-90)" font-size="17px" fill="#000" stroke="#000" stroke-width="0.2">Flexocoupling coefficient (V)</text>
<text x="309" y="29.8" font-size="11.1px" font-weight="bold" fill="#000">BNT-<tspan font-style="italic">x</tspan>BT</text>
<g font-size="8.6px" fill="#000" stroke="#000" stroke-width="0.25"><path d="M310.3 46.6H330.1" stroke-linecap="butt" stroke="#EB5A6E" stroke-width="1.25"/><circle cx="320.2" cy="46.6" r="2.45" fill="#EB5A6E" stroke="none"/><text x="332.2" y="49.6">x=0</text>
<path d="M310.3 57.1H330.1" stroke-linecap="butt" stroke="#F7941E" stroke-width="1.25"/><circle cx="320.2" cy="57.1" r="2.45" fill="#F7941E" stroke="none"/><text x="332.2" y="60.1">x=0.04</text>
<path d="M310.3 67.5H330.1" stroke-linecap="butt" stroke="#1BC3A1" stroke-width="1.25"/><circle cx="320.2" cy="67.5" r="2.45" fill="#1BC3A1" stroke="none"/><text x="332.2" y="70.5">x=0.06</text>
<path d="M310.3 78H330.1" stroke-linecap="butt" stroke="#0B6CF7" stroke-width="1.25"/><circle cx="320.2" cy="78" r="2.45" fill="#0B6CF7" stroke="none"/><text x="332.2" y="81.0">x=0.08</text>
<path d="M310.3 88.4H330.1" stroke-linecap="butt" stroke="#8E2DF0" stroke-width="1.25"/><circle cx="320.2" cy="88.4" r="2.45" fill="#8E2DF0" stroke="none"/><text x="332.2" y="91.4">x=0.10</text></g>
</svg>
</body></html>
